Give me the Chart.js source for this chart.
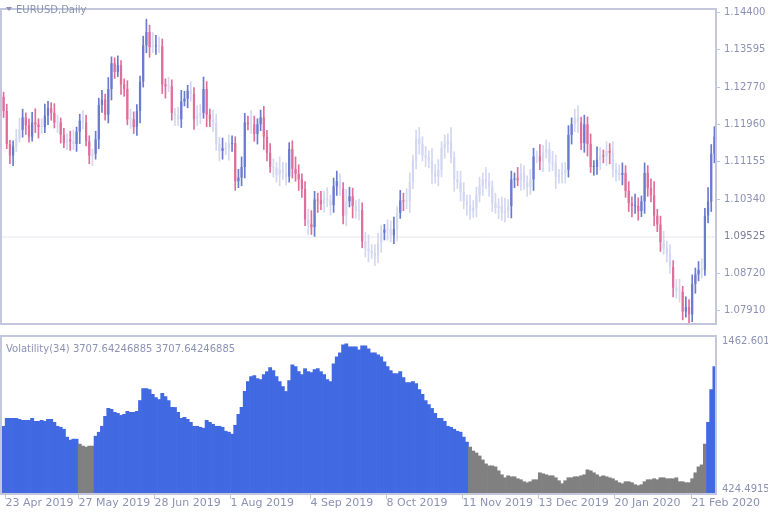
<!DOCTYPE html>
<html><head><meta charset="utf-8">
<script src="https://cdn.jsdelivr.net/npm/chart.js@4"></script>
<style>html,body{margin:0;padding:0;background:#fff;overflow:hidden}canvas{position:absolute;left:0}</style>
</head><body>
<canvas id="top" width="768" height="334" style="top:0"></canvas>
<canvas id="bot" width="768" height="178" style="top:334px"></canvas>
<script>
const firstOpen = 1.1257;
const closes = [
1.1226,1.1154,1.1129,1.1149,1.1166,1.1185,1.1212,1.1195,1.1170,1.1201,
1.1197,1.1191,1.1191,1.1216,1.1232,1.1222,1.1201,1.1201,1.1174,1.1156,
1.1164,1.1160,1.1154,1.1181,1.1205,1.1201,1.1160,1.1129,1.1133,1.1164,
1.1239,1.1251,1.1218,1.1274,1.1330,1.1311,1.1326,1.1284,1.1274,1.1208,
1.1208,1.1191,1.1226,1.1290,1.1369,1.1398,1.1365,1.1367,1.1369,1.1367,
1.1284,1.1280,1.1280,1.1222,1.1216,1.1208,1.1247,1.1253,1.1270,1.1263,
1.1208,1.1216,1.1222,1.1274,1.1218,1.1208,1.1201,1.1154,1.1139,1.1145,
1.1143,1.1154,1.1156,1.1073,1.1081,1.1104,1.1201,
1.1197,1.1197,1.1176,1.1197,1.1212,1.1170,1.1135,1.1104,1.1102,1.1087,
1.1098,1.1091,1.1083,1.1143,1.1100,1.1089,1.1077,1.1056,1.0990,1.0979,
1.0973,1.1033,1.1031,1.1023,1.1035,1.1031,1.1021,1.1062,1.1073,1.1056,
1.0998,1.1029,1.1040,1.1019,1.1008,1.1010,1.0942,1.0926,1.0921,1.0917,
1.0911,1.0938,1.0961,1.0967,1.0969,1.0955,1.0969,1.1004,1.1031,1.1029,
1.1029,1.1071,1.1118,1.1166,1.1154,1.1129,1.1125,1.1118,1.1091,1.1083,
1.1098,1.1145,1.1154,1.1160,1.1125,1.1077,1.1071,1.1050,1.1029,1.1021,
1.1008,
1.1015,1.1042,1.1062,1.1077,1.1073,1.1062,1.1025,1.1015,1.1019,1.1004,
1.1008,1.1019,1.1077,1.1079,1.1075,1.1091,1.1071,1.1060,1.1077,1.1127,
1.1127,1.1116,1.1135,1.1143,1.1114,1.1112,1.1083,1.1087,1.1091,1.1098,
1.1174,1.1197,1.1212,1.1201,1.1156,1.1197,1.1154,1.1104,1.1104,1.1120,
1.1129,1.1127,1.1139,1.1135,1.1098,1.1091,1.1087,1.1091,1.1052,1.1025,
1.1019,1.1019,1.1008,1.1029,1.1091,1.1058,1.1042,1.0998,1.0979,1.0940,
1.0926,1.0915,1.0886,1.0841,1.0834,1.0832,1.0789,1.0799,1.0783,1.0849,
1.0870,1.0880,1.0880,1.0998,1.1029,1.1133,1.1170];
const wickUp = [
10,15,8,12,20,25,18,10,14,22,30,12,18,25,15,
12,20,16,10,14,12,18,25,10,14,22,16,12,10,18,
15,20,12,25,14,12,20,10,12,18,22,16,14,12,20,
28,15,30,22,18,16,12,20,14,10,18,24,16,12,20,
14,22,18,26,16,12,20,18,15,22,12,20,16,14,18,
22,20,14,30,18,12,16,24,14,20,18,12,28,16,22,
14,18,26,20,12,16,22,30,18,14,20,16,24,12,18,
22,16,14,26,20,18,12,24,16,20,30,14,18,22,16,
12,20,18,26,14,22,16,28,20,12,18,24,16,20,14,
26,18,22,14,20,16,30,12,18,24,20,14,22,16,18,
20,14,26,18,12,22,16,20,28,14,18,12,24,20,16,
14,22,18,12,26,16,20,14,24,18,12,22,16,20,14,
18,26,12,20,16,22,14,28,18,12,20,16,24,14,18,
22,16,20,14,26,18,12,22,16,20,30,14,18,24,16,
20,14,18,26,12,22,16,20,14,18,24,16,30,20,22];
const wickDn = [
14,10,18,22,12,8,16,20,12,10,18,24,14,12,20,
16,12,22,18,10,14,20,12,16,26,14,10,18,22,12,
20,16,12,18,24,14,10,22,16,12,20,14,18,26,12,
16,22,12,18,14,20,26,12,16,22,14,18,10,20,16,
22,14,18,12,26,16,20,14,22,18,12,24,16,20,14,
18,24,12,20,16,22,14,28,18,12,20,16,24,14,18,
12,20,16,24,18,14,22,16,20,26,12,18,14,22,16,
20,14,18,22,12,26,16,20,14,18,24,12,22,16,20,
16,22,14,18,26,12,20,16,24,14,18,22,12,20,16,
24,14,20,16,22,18,12,26,14,20,16,22,18,14,20,
14,20,16,22,18,12,24,16,20,14,26,18,12,22,16,
20,16,24,14,18,22,12,20,16,26,14,18,22,16,20,
16,22,14,20,26,12,18,16,22,14,20,24,16,18,12,
22,14,18,24,16,20,12,26,18,14,22,16,20,12,18,
14,20,16,22,18,12,24,16,20,14,18,12,16,22,20];
const fadedFlags =
"0000110000"+"0010000100"+"1010010010"+"0000000000"+"1000000101"+"0010110001"+"0110001110"+"1100000"+
"0100000011"+"1110000001"+"0000111001"+"0100110111"+"1110110100"+"1111111111"+"11111111111"+
"1111111111"+"1100011110"+"1011111111"+"0011000000"+"1010111000"+"0000000000"+"1110110000"+"0010000";
const volatility = [
859,915,915,915,915,908,901,901,901,915,894,894,901,894,908,908,887,859,852,838,
782,761,768,768,733,719,712,719,719,789,817,859,929,985,978,957,950,936,943,964,
957,957,964,1041,1126,1126,1119,1084,1062,1048,1091,1069,1041,992,992,957,915,922,908,887,
859,859,852,845,901,887,873,859,859,852,824,817,803,866,943,992,1105,
1175,1210,1217,1196,1189,1224,1245,1273,1252,1210,1175,1140,1105,1182,1294,1280,1245,1224,1266,1245,
1238,1259,1266,1245,1224,1189,1175,1301,1350,1378,1434,1441,1420,1420,1420,1399,1427,1427,1406,1378,
1378,1364,1350,1315,1280,1252,1231,1231,1245,1203,1168,1168,1175,1161,1119,1084,1041,1013,985,950,
915,915,894,859,852,838,824,817,782,747,712,
684,670,649,621,593,579,579,572,544,516,495,509,502,502,488,481,467,460,467,481,
481,530,523,516,509,509,495,474,453,474,495,495,502,502,509,516,551,544,530,516,
502,509,502,495,488,474,460,453,467,467,460,446,439,446,467,481,481,488,481,495,
495,488,488,488,495,467,467,460,460,488,530,572,586,733,887,1119,1280];
const grayRanges = [[24,28],[147,221]];
const priceTicks = [1.14400,1.13595,1.12770,1.11960,1.11155,1.10340,1.09525,1.08720,1.07910];
const currentPrice = 1.09525;
const dateLabels = ["23 Apr 2019","27 May 2019","28 Jun 2019","1 Aug 2019","4 Sep 2019","8 Oct 2019","11 Nov 2019","13 Dec 2019","20 Jan 2020","21 Feb 2020"];
const dateIdx = [1,24,48,72,97,121,145,169,193,217];
const volAxisLabels = ["1462.6017","424.49159"];

const N = closes.length;
const labels = closes.map((_,i)=>i);
const opens = closes.map((c,i)=> i===0 ? firstOpen : closes[i-1]);
const bodies = closes.map((c,i)=>[opens[i],c]);
const wicks = closes.map((c,i)=>[Math.min(opens[i],c)-(wickDn[i]||0)*0.0001, Math.max(opens[i],c)+(wickUp[i]||0)*0.0001]);
const BULL='#6a7bcf', BEAR='#e06e9b', FADE='#d3d8f0', FRAME='#c3c7dc', TXT='#8c92b4';
function candleColor(i){ if(fadedFlags[i]==='1') return FADE; return closes[i]>=opens[i]?BULL:BEAR; }
function isGray(i){ return grayRanges.some(r=>i>=r[0]&&i<=r[1]); }
const FONT = {family:'DejaVu Sans', size:10};

const framePlugin = {
  id:'frame',
  beforeDatasetsDraw(chart){
    const a=chart.chartArea, c=chart.ctx;
    if(chart.canvas.id==='top'){
      const y=chart.scales.y.getPixelForValue(currentPrice);
      c.save(); c.strokeStyle='#e6e6ee'; c.lineWidth=1; c.beginPath(); c.moveTo(a.left,y+0.5); c.lineTo(a.right,y+0.5); c.stroke(); c.restore();
    }
  },
  afterDraw(chart){
    const a=chart.chartArea, c=chart.ctx;
    c.save(); c.strokeStyle=FRAME; c.lineWidth=2;
    c.strokeRect(a.left-1, a.top-1, a.right-a.left+1, a.bottom-a.top+1);
    c.font='10px DejaVu Sans'; c.fillStyle=TXT; c.textBaseline='middle';
    if(chart.canvas.id==='top'){
      c.beginPath(); c.moveTo(6,7); c.lineTo(12,7); c.lineTo(9,11); c.closePath(); c.fill();
      c.fillText('EURUSD,Daily', 16, 10);
      const y=chart.scales.y.getPixelForValue(currentPrice);
      c.fillStyle='#ffffff'; c.fillRect(a.right+3,y-7,50,14);
      c.fillStyle='#7a7f9a'; c.fillText(currentPrice.toFixed(5), a.right+8, y);
    } else {
      c.fillText('Volatility(34) 3707.64246885 3707.64246885', 6, a.top+12);
      c.fillText(volAxisLabels[0], a.right+6, 341-334);
      c.fillText(volAxisLabels[1], a.right+6, 489-334);
      const xs=chart.scales.x, half=(xs.getPixelForValue(1)-xs.getPixelForValue(0))/2;
      c.font='11px DejaVu Sans'; c.textBaseline='top';
      dateIdx.forEach((d,k)=>{
        const x=Math.round(xs.getPixelForValue(d)-half)+0.5;
        c.strokeStyle=FRAME; c.lineWidth=1; c.beginPath(); c.moveTo(x,a.bottom); c.lineTo(x,a.bottom+5); c.stroke();
        c.fillText(dateLabels[k], x, a.bottom+4);
      });
    }
    c.restore();
  }
};
Chart.register(framePlugin);

new Chart(document.getElementById('top'),{
  type:'bar',
  data:{labels, datasets:[
    {data:wicks, backgroundColor:labels.map(candleColor), barThickness:1, grouped:false},
    {data:bodies, backgroundColor:labels.map(candleColor), barPercentage:0.7, categoryPercentage:1, grouped:false, minBarLength:1}
  ]},
  options:{responsive:false, animation:false, devicePixelRatio:1,
    layout:{padding:{top:2,left:2,right:0,bottom:0}},
    plugins:{legend:{display:false}, tooltip:{enabled:false}},
    scales:{
      x:{display:false, offset:true},
      y:{position:'right', min:1.0762, max:1.1446,
        afterFit(s){s.width=52;},
        afterBuildTicks(s){s.ticks=priceTicks.filter(v=>v!==currentPrice).map(v=>({value:v}));},
        ticks:{font:FONT, color:TXT, padding:4, callback:v=>Number(v).toFixed(5)},
        grid:{drawOnChartArea:false, color:FRAME, tickLength:4}, border:{color:FRAME}}
    }}
});

new Chart(document.getElementById('bot'),{
  type:'bar',
  data:{labels, datasets:[{data:volatility, backgroundColor:labels.map(i=>isGray(i)?'#808080':'#4169e1'), barPercentage:1, categoryPercentage:1}]},
  options:{responsive:false, animation:false, devicePixelRatio:1,
    layout:{padding:{top:3,left:2,right:0,bottom:18}},
    plugins:{legend:{display:false}, tooltip:{enabled:false}},
    scales:{
      x:{display:false, offset:true},
      y:{position:'right', min:380, max:1490, afterFit(s){s.width=52;}, ticks:{display:false}, grid:{display:false}, border:{color:FRAME}}
    }}
});
</script>
</body></html>
